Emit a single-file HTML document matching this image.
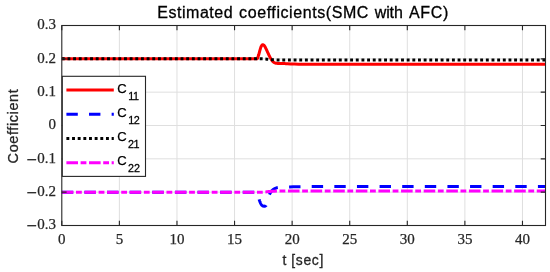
<!DOCTYPE html>
<html><head><meta charset="utf-8"><style>
html,body{margin:0;padding:0;background:#fff;width:550px;height:272px;overflow:hidden}
svg{display:block}
.sans{font-family:"Liberation Sans",Arial,sans-serif}
.serif{font-family:"Liberation Serif","Times New Roman",serif}
</style></head><body>
<svg width="550" height="272" viewBox="0 0 550 272">
<rect width="550" height="272" fill="#fff"/>
<g stroke="#dfdfdf" stroke-width="1"><line x1="119.38" y1="25.5" x2="119.38" y2="225.5"/><line x1="176.97" y1="25.5" x2="176.97" y2="225.5"/><line x1="234.55" y1="25.5" x2="234.55" y2="225.5"/><line x1="292.13" y1="25.5" x2="292.13" y2="225.5"/><line x1="349.72" y1="25.5" x2="349.72" y2="225.5"/><line x1="407.30" y1="25.5" x2="407.30" y2="225.5"/><line x1="464.88" y1="25.5" x2="464.88" y2="225.5"/><line x1="522.47" y1="25.5" x2="522.47" y2="225.5"/><line x1="61.8" y1="58.83" x2="545.5" y2="58.83"/><line x1="61.8" y1="92.17" x2="545.5" y2="92.17"/><line x1="61.8" y1="125.50" x2="545.5" y2="125.50"/><line x1="61.8" y1="158.83" x2="545.5" y2="158.83"/><line x1="61.8" y1="192.17" x2="545.5" y2="192.17"/></g>
<g fill="none" stroke-width="3" stroke-linejoin="round">
<path d="M61.80,58.83 L256.80,58.83 L257.05,58.83 L257.30,58.62 L257.55,58.17 L257.80,57.55 L258.05,56.83 L258.30,56.08 L258.55,55.36 L258.80,54.55 L259.05,53.63 L259.30,52.64 L259.55,51.64 L259.80,50.69 L260.05,49.84 L260.55,48.15 L260.80,47.37 L261.05,46.70 L261.30,46.20 L261.55,45.81 L261.80,45.44 L262.05,45.11 L262.30,44.87 L262.55,44.73 L262.80,44.71 L263.05,44.77 L263.30,44.89 L263.55,45.06 L263.80,45.25 L264.05,45.47 L264.30,45.70 L264.55,46.00 L264.80,46.38 L265.05,46.82 L265.30,47.30 L265.80,48.31 L266.05,48.80 L266.30,49.30 L266.55,49.84 L266.80,50.39 L267.55,52.10 L267.80,52.65 L268.05,53.19 L268.80,54.76 L269.05,55.28 L269.30,55.79 L269.55,56.28 L269.80,56.76 L270.05,57.23 L270.55,58.12 L270.80,58.56 L271.05,58.99 L271.30,59.41 L271.55,59.81 L271.80,60.18 L272.05,60.51 L272.30,60.82 L272.80,61.40 L273.05,61.68 L273.30,61.93 L273.55,62.16 L273.80,62.36 L274.05,62.52 L274.30,62.65 L274.80,62.86 L275.05,62.96 L275.30,63.05 L275.55,63.12 L275.80,63.19 L276.05,63.24 L276.30,63.28 L276.80,63.32 L277.80,63.38 L279.05,63.44 L280.55,63.48 L283.30,63.54 L284.55,63.58 L285.80,63.64 L287.55,63.73 L290.80,63.93 L292.30,64.01 L293.55,64.06 L294.55,64.09 L298.55,64.16 L302.30,64.21 L305.80,64.24 L309.05,64.25 L545.50,64.25" stroke="#ff0000"/>
<path d="M61.80,192.17 L255.00,192.17" stroke="#0000ff" stroke-dasharray="11.4 11.22"/>
<path d="M255.00,192.17 L256.50,192.17 L256.75,192.38 L257.00,192.92 L257.50,194.30 L257.75,195.00 L258.00,195.81 L258.25,196.65 L258.50,197.48 L259.00,199.05 L259.25,199.83 L259.50,200.58 L259.75,201.27 L260.00,201.91 L260.25,202.53 L260.50,203.11 L260.75,203.63 L261.00,204.07 L261.25,204.48 L261.50,204.85 L261.75,205.16 L262.00,205.40 L262.25,205.59 L262.50,205.76 L262.75,205.91 L263.00,206.03 L263.25,206.09 L263.75,206.15 L264.25,206.18 L264.75,206.20 L265.00,206.17 L265.25,206.08 L265.50,205.93 L265.75,205.73 L266.00,205.48 L266.25,204.99 L266.50,204.31 L266.75,203.55 L267.00,202.74 L267.25,201.77 L267.50,200.76 L267.75,199.82 L268.00,198.92 L268.25,198.05 L268.50,197.22 L268.75,196.45 L269.00,195.74 L269.25,195.06 L269.50,194.44 L269.75,193.90 L270.00,193.41 L270.25,192.95 L270.50,192.53 L270.75,192.15 L271.00,191.80 L271.25,191.48 L271.50,191.17 L271.75,190.88 L272.00,190.61 L272.25,190.35 L272.50,190.11 L272.75,189.90 L273.00,189.70 L273.25,189.52 L273.50,189.35 L273.75,189.19 L274.00,189.04 L274.25,188.90 L274.75,188.64 L275.25,188.41 L276.00,188.10 L276.50,187.90 L277.00,187.72 L277.25,187.65 L277.50,187.59 L277.75,187.54 L278.00,187.50 L278.75,187.42 L279.75,187.34 L280.75,187.28 L282.00,187.21" stroke="#0000ff" stroke-dasharray="11.4 11.22" stroke-dashoffset="13.4"/>
<path d="M282.00,187.21 L286.50,187.04 L289.75,186.94 L293.00,186.84 L296.00,186.77 L299.00,186.72 L304.25,186.64 L307.25,186.61 L309.75,186.60 L545.50,186.60" stroke="#0000ff" stroke-dasharray="11.4 11.22" stroke-dashoffset="15.52"/>
<path d="M61.80,58.83 L261.80,58.83 L262.30,58.84 L262.80,58.85 L263.55,58.89 L264.55,58.97 L266.05,59.10 L266.55,59.16 L267.30,59.25 L268.80,59.47 L269.55,59.56 L270.55,59.64 L272.05,59.76 L273.30,59.83 L274.30,59.88 L276.30,59.93 L278.55,59.97 L280.55,59.99 L545.50,60.00" stroke="#000" stroke-dasharray="2.9 2.755"/>
<path d="M61.80,192.17 L261.80,192.17 L262.30,192.16 L262.80,192.15 L263.55,192.11 L264.55,192.03 L266.05,191.90 L266.55,191.84 L267.30,191.75 L268.80,191.53 L269.55,191.44 L270.30,191.38 L271.55,191.28 L272.80,191.21 L274.30,191.13 L277.55,191.00 L279.30,190.94 L280.55,190.91 L281.80,190.90 L545.50,190.90" stroke="#ff00ff" stroke-dasharray="11.6 2.6 5.8 2.62"/>
</g>
<rect x="61.8" y="25.5" width="483.70" height="200.0" fill="none" stroke="#262626" stroke-width="1.1"/>
<path d="M61.80,225.5v-4.8M61.80,25.5v4.8M119.38,225.5v-4.8M119.38,25.5v4.8M176.97,225.5v-4.8M176.97,25.5v4.8M234.55,225.5v-4.8M234.55,25.5v4.8M292.13,225.5v-4.8M292.13,25.5v4.8M349.72,225.5v-4.8M349.72,25.5v4.8M407.30,225.5v-4.8M407.30,25.5v4.8M464.88,225.5v-4.8M464.88,25.5v4.8M522.47,225.5v-4.8M522.47,25.5v4.8M61.8,25.50h4.8M545.5,25.50h-4.8M61.8,58.83h4.8M545.5,58.83h-4.8M61.8,92.17h4.8M545.5,92.17h-4.8M61.8,125.50h4.8M545.5,125.50h-4.8M61.8,158.83h4.8M545.5,158.83h-4.8M61.8,192.17h4.8M545.5,192.17h-4.8M61.8,225.50h4.8M545.5,225.50h-4.8" stroke="#262626" stroke-width="1.1" fill="none"/>
<g class="serif" font-size="15" fill="#262626" stroke="#262626" stroke-width="0.25" text-anchor="middle"><text x="61.80" y="243.7">0</text><text x="119.38" y="243.7">5</text><text x="176.97" y="243.7">10</text><text x="234.55" y="243.7">15</text><text x="292.13" y="243.7">20</text><text x="349.72" y="243.7">25</text><text x="407.30" y="243.7">30</text><text x="464.88" y="243.7">35</text><text x="522.47" y="243.7">40</text></g>
<g class="serif" font-size="15" fill="#262626" stroke="#262626" stroke-width="0.25" text-anchor="end"><text x="56" y="29.40">0.3</text><text x="56" y="62.73">0.2</text><text x="56" y="96.07">0.1</text><text x="56" y="129.40">0</text><text x="56" y="162.73"><tspan font-family="DejaVu Serif, serif" font-size="14" stroke-width="0.1" dy="0.8">−</tspan><tspan dx="-0.4" dy="-0.8">0.1</tspan></text><text x="56" y="196.07"><tspan font-family="DejaVu Serif, serif" font-size="14" stroke-width="0.1" dy="0.8">−</tspan><tspan dx="-0.4" dy="-0.8">0.2</tspan></text><text x="56" y="229.40"><tspan font-family="DejaVu Serif, serif" font-size="14" stroke-width="0.1" dy="0.8">−</tspan><tspan dx="-0.4" dy="-0.8">0.3</tspan></text></g>
<g class="sans" font-size="16" fill="#000" stroke="#000" stroke-width="0.3"><text x="157.36" y="17.6" textLength="75.28" lengthAdjust="spacing">Estimated</text> <text x="239.12" y="17.6" textLength="129.26" lengthAdjust="spacing">coefficients(SMC</text> <text x="374.64" y="17.6" textLength="28.26" lengthAdjust="spacing">with</text> <text x="409.02" y="17.6" textLength="39.36" lengthAdjust="spacing">AFC)</text></g>
<g class="sans" font-size="13.9" fill="#262626" stroke="#262626" stroke-width="0.3"><text x="282.6" y="264.6">t</text> <text x="291.24" y="264.6" textLength="32.14" lengthAdjust="spacing">[sec]</text></g>
<text class="sans" transform="translate(17.6,163.4) rotate(-90)" x="0" y="0" font-size="14.5" textLength="74.2" lengthAdjust="spacing" fill="#262626" stroke="#262626" stroke-width="0.3">Coefficient</text>
<g>
<rect x="62.3" y="76.3" width="83.2" height="100.1" fill="#fff" stroke="#262626" stroke-width="1.1"/>
<g fill="none" stroke-width="3">
<path d="M66.4,90.0H113.8" stroke="#ff0000"/>
<path d="M66.4,114.3H113.8" stroke="#0000ff" stroke-dasharray="11.4 11.22"/>
<path d="M66.4,138.5H113.8" stroke="#000" stroke-dasharray="2.9 2.755"/>
<path d="M66.4,162.7H113.8" stroke="#ff00ff" stroke-dasharray="11.6 2.6 5.8 2.62"/>
</g>
<g class="sans" fill="#000" stroke="#000" stroke-width="0.25" font-size="13">
<text x="117.2" y="92.6">C</text><text transform="translate(128.3,99.6) scale(1.08,1)" font-size="10" textLength="10" lengthAdjust="spacing">11</text>
<text x="117.2" y="116.8">C</text><text transform="translate(128.3,123.8) scale(1.08,1)" font-size="10" textLength="10.6" lengthAdjust="spacing">12</text>
<text x="117.2" y="141.0">C</text><text transform="translate(128.1,148.0) scale(1.08,1)" font-size="10" textLength="10.6" lengthAdjust="spacing">21</text>
<text x="117.2" y="165.2">C</text><text transform="translate(128.0,172.2) scale(1.08,1)" font-size="10" textLength="11.2" lengthAdjust="spacing">22</text>
</g>
</g>
</svg>
</body></html>
